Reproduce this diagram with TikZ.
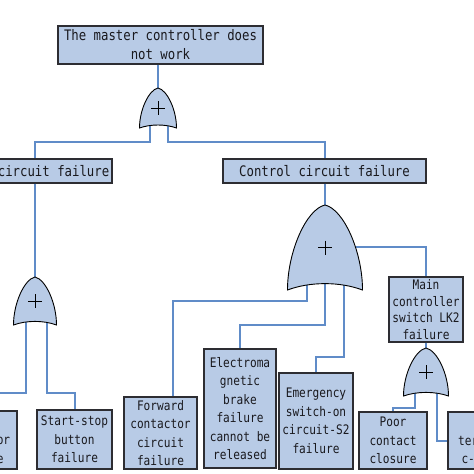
\documentclass[tikz,border=0pt]{standalone}
\usepackage{fontspec}
\newfontfamily\dmono[FakeStretch=0.85]{DejaVu Sans Mono}
\definecolor{boxfill}{RGB}{184,203,230}
\definecolor{boxline}{RGB}{45,45,50}
\definecolor{conncol}{RGB}{96,140,200}
\definecolor{txtcol}{RGB}{25,25,30}
\newcommand{\orgate}[4]{%
  \draw[gatestyle] (#1,#2) .. controls ({#1-0.25*#3},{#2+0.05*#4}) and ({#1-0.5*#3},{#2+0.55*#4}) .. ({#1-0.5*#3},{#2+#4})
    .. controls ({#1-0.2*#3},{#2+0.9*#4}) and ({#1+0.2*#3},{#2+0.9*#4}) .. ({#1+0.5*#3},{#2+#4})
    .. controls ({#1+0.5*#3},{#2+0.55*#4}) and ({#1+0.25*#3},{#2+0.05*#4}) .. cycle;
  \draw[plusstyle] ({#1-7},{#2+0.5*#4}) -- ({#1+7},{#2+0.5*#4}) ({#1},{#2+0.5*#4-7}) -- ({#1},{#2+0.5*#4+7});
}
\begin{document}
\begin{tikzpicture}[x=1pt,y=-1pt,
  box/.style={draw=boxline, fill=boxfill, line width=1.3pt, inner sep=0pt, align=center, text=txtcol,
    font=\dmono\fontsize{13.1}{18.5}\selectfont},
  bigbox/.style={box, font=\dmono\fontsize{14.5}{19}\selectfont},
  conn/.style={draw=conncol, line width=2pt},
  gatestyle/.style={draw=black, fill=boxfill, line width=0.9pt},
  plusstyle/.style={draw=black, line width=0.8pt}]
\useasboundingbox (0,0) rectangle (474,474);
\clip (0,0) rectangle (474,474);
\fill[white] (0,0) rectangle (474,474);
% boxes
\node[bigbox, minimum width=205, minimum height=38] (top) at (160.5,45) {The master controller does\\not work};
\node[bigbox, minimum width=154, minimum height=24] (main) at (35,171) {Main circuit failure};
\node[bigbox, minimum width=203, minimum height=24] (ctrl) at (324.5,171) {Control circuit failure};
\node[box, minimum width=74, minimum height=58] (lbox) at (-20,440) {Main\\contactor\\failure};
\node[box, minimum width=75, minimum height=59] (ss) at (74.5,439.5) {Start-stop\\button\\failure};
\node[box, minimum width=73, minimum height=72] (fwd) at (160.5,433) {Forward\\contactor\\circuit\\failure};
\node[box, minimum width=72, minimum height=119] (em) at (240,408.5) {Electroma\\gnetic\\brake\\failure\\cannot be\\released};
\node[box, minimum width=74, minimum height=96] (es) at (316,421) {Emergency\\switch-on\\circuit-S2\\failure};
\node[box, minimum width=74, minimum height=65, font=\dmono\fontsize{13.1}{16.5}\selectfont] (lk2) at (426,309.5) {Main\\controller\\switch LK2\\failure};
\node[box, minimum width=68, minimum height=57] (poor) at (393,440.5) {Poor\\contact\\closure};
\node[box, minimum width=74, minimum height=57] (rbox) at (485,440.5) {The\\terminal\\c-block};
% gate anchor coordinates
\coordinate (g1) at (158,88);
\coordinate (g1L) at (150,122);  \coordinate (g1Lb) at (150,142);
\coordinate (g1R) at (168,122);  \coordinate (g1Rb) at (168,142);
\coordinate (g2) at (35,277);
\coordinate (g2L) at (26,318);   \coordinate (g2Lb) at (26,393);
\coordinate (g2R) at (47,318);   \coordinate (g2Rb) at (47,393);
\coordinate (g3) at (325,205);
\coordinate (g3A) at (307,284);  \coordinate (g3Ab) at (307,301);
\coordinate (g3B) at (325,284);  \coordinate (g3Bb) at (325,325);
\coordinate (g3C) at (344,284);  \coordinate (g3Cb) at (344,357);
\coordinate (g3out) at (350,247);
\coordinate (g4) at (426,348);
\coordinate (g4L) at (415,390);  \coordinate (g4Lb) at (415,408);
\coordinate (g4R) at (437,390);
% connectors
\draw[conn] (g1 |- top.south) -- (g1);
\draw[conn] (g1L) -- (g1Lb) -| (main.north);
\draw[conn] (g1R) -- (g1Rb) -| (ctrl.north);
\draw[conn] (main.south) -- (g2);
\draw[conn] (g2L) -- (g2Lb) -| (lbox.north);
\draw[conn] (g2R) -- (g2Rb) -| (ss.north);
\draw[conn] (g3 |- ctrl.south) -- (g3);
\draw[conn] (g3A) -- (g3Ab) -| ([xshift=12.5pt]fwd.north);
\draw[conn] (g3B) -- (g3Bb) -| (em.north);
\draw[conn] (g3C) -- (g3Cb) -| (es.north);
\draw[conn] (g3out) -| (lk2.north);
\draw[conn] (lk2.south) -- (g4);
\draw[conn] (g4L) -- (g4Lb) -| (poor.north);
\draw[conn] (g4R) |- (rbox.west);
% gates
\orgate{158}{88}{37}{40}
\orgate{35}{277}{43}{48}
\orgate{325}{205}{75}{85}
\orgate{426}{348}{45}{48}
\end{tikzpicture}
\end{document}
